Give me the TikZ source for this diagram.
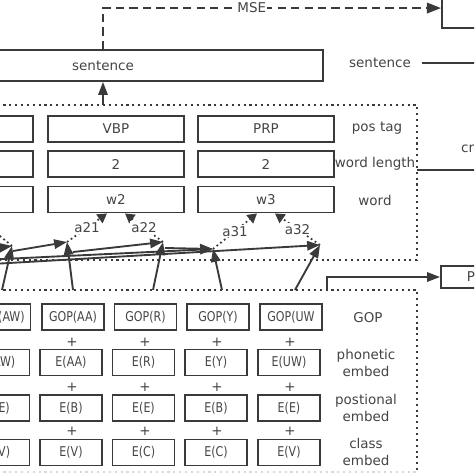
\documentclass[tikz,border=0pt]{standalone}
\usepackage{fontspec}
\setmainfont{DejaVu Sans}
\newfontfamily\narrowfont[FakeStretch=0.82]{DejaVu Sans}
\usetikzlibrary{arrows.meta}
\definecolor{linegray}{RGB}{58,58,58}
\definecolor{textgray}{RGB}{68,68,68}
\tikzset{
  rowbox/.style={draw=linegray,line width=1.6pt,minimum width=4.08cm,minimum height=0.78cm,inner sep=0pt,text=textgray,font=\fontsize{11.5}{13}\selectfont},
  embbox/.style={draw=linegray,line width=1.6pt,minimum width=1.86cm,minimum height=0.78cm,inner sep=0pt,text=textgray,font=\narrowfont\fontsize{11.5}{13}\selectfont},
  rowlabel/.style={text=textgray,font=\fontsize{11.5}{14.5}\selectfont,align=center},
  plus/.style={text=textgray,font=\fontsize{11.5}{13}\selectfont,inner sep=0pt},
  dotframe/.style={linegray,line width=1.8pt,dash pattern=on 1.8pt off 3.2pt},
  attn/.style={linegray,line width=1.5pt,dash pattern=on 1.5pt off 2.5pt,-{Triangle[width=9pt,length=8pt]}},
  feed/.style={linegray,line width=1.6pt,-{Triangle[width=8pt,length=11pt]}},
  wlabel/.style={fill=white,inner sep=1pt,text=textgray,font=\fontsize{11.5}{13}\selectfont},
}
\begin{document}
\begin{tikzpicture}[x=0.03cm,y=-0.03cm]
            \useasboundingbox (0,0) rectangle (474,474);
            \clip (0,0) rectangle (474,474);
            % sentence level
            \node[draw=linegray,line width=1.6pt,minimum width=13.2cm,minimum height=0.93cm,text=textgray,font=\fontsize{11.5}{13}\selectfont]
                (sent) at (103,65.5) {sentence};
            \node[draw=linegray,line width=1.6pt,anchor=south west,minimum width=3.6cm,minimum height=1.2cm]
                (tgt) at (441,29) {};
            \draw[linegray,line width=1.6pt,dash pattern=on 7pt off 4.5pt,-{Triangle[width=9pt,length=12pt]}]
                (sent.north) |- (tgt.west) node[pos=0.72,wlabel]{MSE};
            \node[rowlabel] (sentlab) at (380,63) {sentence};
            \coordinate (sentend) at (480,62);
            \draw[linegray,line width=1.6pt] ([xshift=0.2cm]sentlab.east) -- (sentend |- sentlab.east);
            % word level
            \draw[dotframe] (-20,105) -- (417,105) -- (417,260) -- (-20,260);
            \coordinate (ftop) at (103,105);
            \draw[feed] (ftop) -- (sent.south);
            \node[rowbox] (t1) at (-35,129) {};
            \node[rowbox] (t2) at (116,129) {VBP};
            \node[rowbox] (t3) at (266,129) {PRP};
            \node[rowbox] (l1) at (-35,164) {};
            \node[rowbox] (l2) at (116,164) {2};
            \node[rowbox] (l3) at (266,164) {2};
            \node[rowbox] (w1) at (-35,199.5) {};
            \node[rowbox] (w2) at (116,199.5) {w2};
            \node[rowbox] (w3) at (266,199.5) {w3};
            \node[rowlabel] (tlab) at (377,128) {pos tag};
            \node[rowlabel] (llab) at (375,164) {word length};
            \node[rowlabel] (wlab) at (375,200) {word};
            \coordinate (lenout) at (417,170);
            \coordinate (lenend) at (480,170);
            \draw[linegray,line width=1.6pt] (lenout) -- (lenend);
            \node[rowlabel,anchor=west] (crlab) at (457,149) {cr};
            % attention
            \coordinate (p1) at (12,246);
            \coordinate (p2) at (67,242);
            \coordinate (p3) at (163,242);
            \coordinate (p4) at (213,249);
            \coordinate (p5) at (320,245);
            \draw[attn] (p1) -- ([xshift=0.24cm]w1.south);
            \draw[attn] (p2) -- ([xshift=-0.27cm]w2.south) node[pos=0.5,wlabel]{a21};
            \draw[attn] (p3) -- ([xshift=0.27cm]w2.south) node[pos=0.5,wlabel]{a22};
            \draw[attn] (p4) -- ([xshift=-0.27cm]w3.south) node[pos=0.5,wlabel]{a31};
            \draw[attn] (p5) -- ([xshift=0.27cm]w3.south) node[pos=0.5,wlabel]{a32};
            \coordinate (f1) at (2,290);
            \coordinate (f2) at (73,290);
            \coordinate (f3) at (153,290);
            \coordinate (f4) at (222,290);
            \coordinate (f5) at (295,290);
            \draw[feed] (f1) -- (p1);
            \draw[feed] (f2) -- (p2);
            \draw[feed] (f3) -- (p3);
            \draw[feed] (f4) -- (p4);
            \draw[feed] (f5) -- (p5);
            \coordinate (q0) at (-60,256);
            \coordinate (q1) at (13,251);
            \coordinate (q2) at (73,252);
            \coordinate (q3) at (-60,262);
            \coordinate (q4) at (165,248);
            \coordinate (q5) at (-60,267);
            \draw[feed] (q0) -- (p1);
            \draw[feed] (q1) -- (p2);
            \draw[feed] (q2) -- (p3);
            \draw[feed] (q3) -- (p4);
            \draw[feed] (q4) -- (p4);
            \draw[feed] (q5) -- (p5);
            % phone level
            \draw[dotframe] (-20,290) -- (417,290) -- (417,474);
            \draw[dotframe,draw=black!15] (-20,472) -- (417,472);
            \node[draw=linegray,line width=1.6pt,anchor=west,minimum width=3cm,minimum height=0.66cm] (pbox) at (440,277) {};
            \node[rowlabel] (plab) at (471,277) {P};
            \coordinate (gopout) at (327,290);
            \draw[feed] (gopout) |- (pbox.west);
            \node[embbox] (g1) at (-0.5,317) {GOP(AW)};
            \node[embbox] (g2) at (73,317) {GOP(AA)};
            \node[embbox] (g3) at (145.5,317) {GOP(R)};
            \node[embbox] (g4) at (218,317) {GOP(Y)};
            \node[embbox] (g5) at (291,317) {GOP(UW};
            \node[embbox] (e1) at (-1.5,362.5) {E(AW)};
            \node[embbox] (e2) at (71,362.5) {E(AA)};
            \node[embbox] (e3) at (143.5,362.5) {E(R)};
            \node[embbox] (e4) at (216,362.5) {E(Y)};
            \node[embbox] (e5) at (289,362.5) {E(UW)};
            \node[embbox] (s1) at (-1.5,408) {E(E)};
            \node[embbox] (s2) at (71,408) {E(B)};
            \node[embbox] (s3) at (143.5,408) {E(E)};
            \node[embbox] (s4) at (216,408) {E(B)};
            \node[embbox] (s5) at (289,408) {E(E)};
            \node[embbox] (c1) at (-1.5,452.5) {E(V)};
            \node[embbox] (c2) at (71,452.5) {E(V)};
            \node[embbox] (c3) at (143.5,452.5) {E(C)};
            \node[embbox] (c4) at (216,452.5) {E(C)};
            \node[embbox] (c5) at (289,452.5) {E(V)};
            \node[plus] (pa2) at (72,342) {+};
            \node[plus] (pa3) at (145,342) {+};
            \node[plus] (pa4) at (217,342) {+};
            \node[plus] (pa5) at (290,342) {+};
            \node[plus] (pb2) at (72,387) {+};
            \node[plus] (pb3) at (145,387) {+};
            \node[plus] (pb4) at (217,387) {+};
            \node[plus] (pb5) at (290,387) {+};
            \node[plus] (pc2) at (72,431) {+};
            \node[plus] (pc3) at (145,431) {+};
            \node[plus] (pc4) at (217,431) {+};
            \node[plus] (pc5) at (290,431) {+};
            \node[rowlabel] (glab) at (368,318) {GOP};
            \node[rowlabel] (elab) at (366,363) {phonetic\\embed};
            \node[rowlabel] (slab) at (366,408) {postional\\embed};
            \node[rowlabel] (clab) at (366,452) {class\\embed};
        \end{tikzpicture}
\end{document}
